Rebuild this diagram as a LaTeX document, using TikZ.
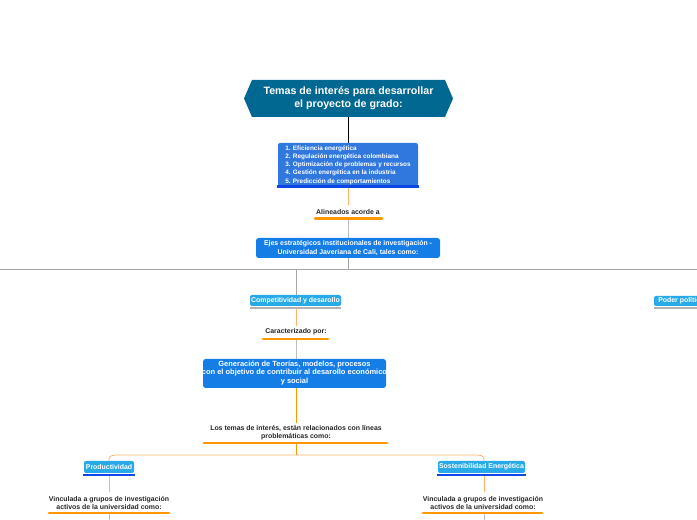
\documentclass[tikz,border=0pt]{standalone}
\usepackage{fontspec}
\setmainfont{Liberation Sans}
\begin{document}
\begin{tikzpicture}[x=0.75pt,y=-0.75pt,
 txt/.style={font=\bfseries\fontsize{5.2}{6}\selectfont,align=center,inner sep=0pt,text=black!85},
 wt/.style={font=\bfseries\fontsize{5.2}{6.2}\selectfont,align=center,text=white,inner sep=0pt},
 ol/.style={draw=orange!60,line width=0.6pt},
 gl/.style={draw=gray!50,line width=0.6pt},
 ul/.style={line width=2.2pt,line cap=round}]
\useasboundingbox (0,0) rectangle (697,520);
\definecolor{hdr}{RGB}{0,104,145}
\definecolor{bx}{RGB}{48,120,222}
\definecolor{bx2}{RGB}{20,125,230}
\definecolor{lb}{RGB}{40,170,232}
\definecolor{db}{RGB}{15,70,230}
\definecolor{org}{RGB}{255,152,0}
% header
\fill[hdr] (252,80) -- (445,80) -- (453,98.5) -- (445,117) -- (252,117) -- (244,98.5) -- cycle;
\node[wt,font=\bfseries\fontsize{8}{9.5}\selectfont] (h) at (348.5,98.5) {Temas de interés para desarrollar\\el proyecto de grado:};
\draw[black,line width=0.7pt] (348,117) -- (348,143);
% box1
\fill[bx,rounded corners=1.5pt] (278,143) rectangle (418,186);
\draw[db,line width=2.5pt] (277,186.5) -- (419,186.5);
\node[wt,align=left,font=\bfseries\fontsize{4.8}{6.2}\selectfont,anchor=west] (b1) at (285,165) {1. Eficiencia energética\\2. Regulación energética colombiana\\3. Optimización de problemas y recursos\\4. Gestión energética en la industria\\5. Predicción de comportamientos};
\draw[ol] (348,188) -- (348,205);
\node[txt] (al) at (348,212) {Alineados acorde a};
\draw[ul,org] (315,218.5) -- (382,218.5);
\draw[gl] (348,220) -- (348,238);
\fill[bx2,rounded corners=2pt] (256,238) rectangle (440,258);
\node[wt] (ej) at (348,248) {Ejes estratégicos institucionales de investigación -\\Universidad Javeriana de Cali, tales como:};
\draw[gray!70,line width=0.6pt] (348,258) -- (348,269);
\draw[gray!70,line width=0.7pt] (0,269) -- (697,269);
\draw[gray!70,line width=0.6pt] (296,269) -- (296,295);
% competitividad
\fill[lb,rounded corners=1.5pt] (250,295) rectangle (341,306);
\draw[gray!60,line width=2pt] (250,308) -- (341,308);
\node[wt] (co) at (295.5,300.5) {Competitividad y desarollo};
\fill[lb,rounded corners=1.5pt] (654,296) rectangle (705,306);
\draw[gray!60,line width=2pt] (654,308) -- (705,308);
\node[wt,anchor=west] (po) at (658,301) {Poder político};
\draw[ol] (296,309) -- (296,326);
\node[txt] (ca) at (296,332) {Caracterizado por:};
\draw[ul,org] (263,339) -- (328,339);
\draw[gl] (296,340) -- (296,359);
\fill[bx2,rounded corners=2pt] (203,359) rectangle (386,388);
\node[wt,font=\bfseries\fontsize{5.6}{6.6}\selectfont] (ge) at (294.5,373) {Generación de Teorías, modelos, procesos\\con el objetivo de contribuir al desarollo económico\\y social};
\draw[org,line width=0.7pt] (296,388) -- (296,423);
\node[txt] (te) at (296,433) {Los temas de interés, están relacionados con líneas\\problemáticas como:};
\draw[ul,org] (204,443) -- (387,443);
\draw[org,line width=0.7pt] (296,444) -- (296,455);
\draw[ol] (109,461) -- (109,459) to[out=90,in=180] (118,455) -- (475,455) to[out=0,in=90] (484,459) -- (484,461);
% productividad
\fill[lb,rounded corners=1.5pt] (84,461) rectangle (134,473);
\draw[db,line width=2pt] (83,475) -- (135,475);
\node[wt] (pr) at (109,467) {Productividad};
\fill[lb,rounded corners=1.5pt] (438,461) rectangle (525,473);
\draw[db,line width=2pt] (437,475) -- (526,475);
\node[wt] (so) at (481.5,467) {Sostenibilidad Energética};
\draw[ol] (109,476) -- (109,492);
\draw[ol] (484,476) -- (484,492);
\node[txt] (v1) at (109,503) {Vinculada a grupos de investigación\\activos de la universidad como:};
\node[txt] (v2) at (483,503) {Vinculada a grupos de investigación\\activos de la universidad como:};
\draw[ul,org] (49,513) -- (169,513);
\draw[ul,org] (423,513) -- (542,513);
\draw[gl] (109,514) -- (109,520);
\draw[gl] (484,514) -- (484,520);
\end{tikzpicture}
\end{document}
